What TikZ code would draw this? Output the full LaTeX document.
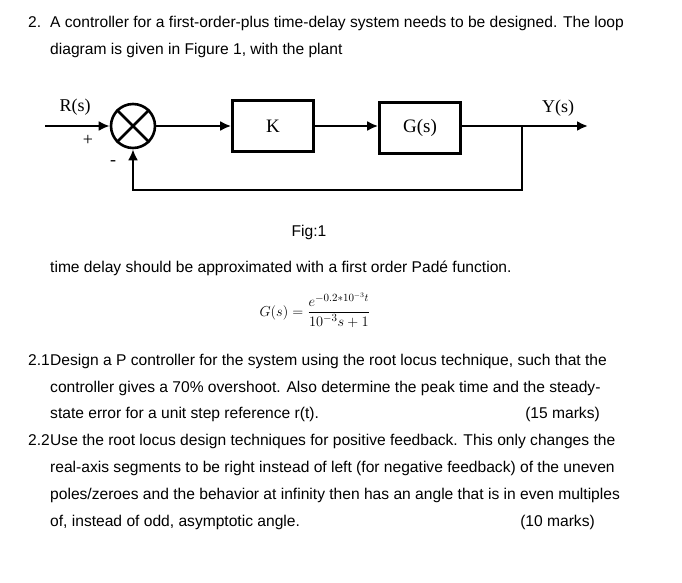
\documentclass[tikz,border=0pt]{standalone}
\usepackage{amsmath}
\usepackage{fontspec}
\setmainfont{Liberation Sans}
\newfontfamily\serf{Liberation Serif}
\usetikzlibrary{arrows.meta}
\begin{document}
\begin{tikzpicture}[x=1pt,y=-1pt,
  txt/.style={anchor=base west,inner sep=0,font=\fontsize{15.6}{18}\selectfont},
  blk/.style={draw,line width=2.6pt,minimum width=81pt,minimum height=51pt,font=\serf\fontsize{19}{21}\selectfont},
  lab/.style={font=\serf\fontsize{18}{20}\selectfont,inner sep=0},
  sig/.style={line width=2.6pt,-{Latex[length=11pt,width=10pt]}}]
\useasboundingbox (0,0) rectangle (682,583);
\node[txt] (n1) at (28,28) {2.};
\node[txt] (l1) at (50,28) {A controller for a first-order-plus time-delay system needs to be designed. The loop};
\node[txt] (l2) at (50,55) {diagram is given in Figure 1, with the plant};
% diagram
\coordinate (in) at (45,126);
\node[draw,circle,line width=2.6pt,minimum size=44pt,inner sep=0] (sum) at (133,126) {};
\draw[line width=2.6pt] (sum.north west) -- (sum.south east) (sum.north east) -- (sum.south west);
\node[blk] (K) at (273,126) {K};
\node[blk] (G) at (420,128) {G(s)};
\coordinate (br) at (522,126);
\coordinate (out) at (588,126);
\coordinate (fb) at (522,190);
\coordinate (fb2) at (133,190);
\draw[sig] (in) -- (sum.west);
\draw[sig] (sum.east) -- (K.west);
\draw[sig] (K.east) -- (K.east -| G.west);
\draw[sig] (G.east |- br) -- (out);
\draw[sig] (br) -- (fb) -- (fb2) -- (sum.south);
\node[lab] (R) at (75,107) {R(s)};
\node[lab] (p) at (88,140) {+};
\node[lab] (m) at (113,163) {-};
\node[lab] (Y) at (558,108) {Y(s)};
\node[txt,anchor=base] (fig) at (309,236) {Fig:1};
\node[txt] (l3) at (50,272) {time delay should be approximated with a first order Padé function.};
\node[inner sep=0,font=\fontsize{15}{17}\selectfont] (eq) at (315,310) {$G(s)=\dfrac{e^{-0.2\ast10^{-3}t}}{10^{-3}s+1}$};
\node[txt] (a1) at (28,365) {2.1};
\node[txt] (a2) at (50,365) {Design a P controller for the system using the root locus technique, such that the};
\node[txt] (a3) at (50,392) {controller gives a 70\% overshoot. Also determine the peak time and the steady-};
\node[txt] (a4) at (50,418) {state error for a unit step reference r(t).};
\node[txt,anchor=base east] (m1) at (600,418) {(15 marks)};
\node[txt] (b1) at (28,445) {2.2};
\node[txt] (b2) at (50,445) {Use the root locus design techniques for positive feedback. This only changes the};
\node[txt] (b3) at (50,472) {real-axis segments to be right instead of left (for negative feedback) of the uneven};
\node[txt] (b4) at (50,499) {poles/zeroes and the behavior at infinity then has an angle that is in even multiples};
\node[txt] (b5) at (50,526) {of, instead of odd, asymptotic angle.};
\node[txt,anchor=base east] (m2) at (595,526) {(10 marks)};
\end{tikzpicture}
\end{document}
